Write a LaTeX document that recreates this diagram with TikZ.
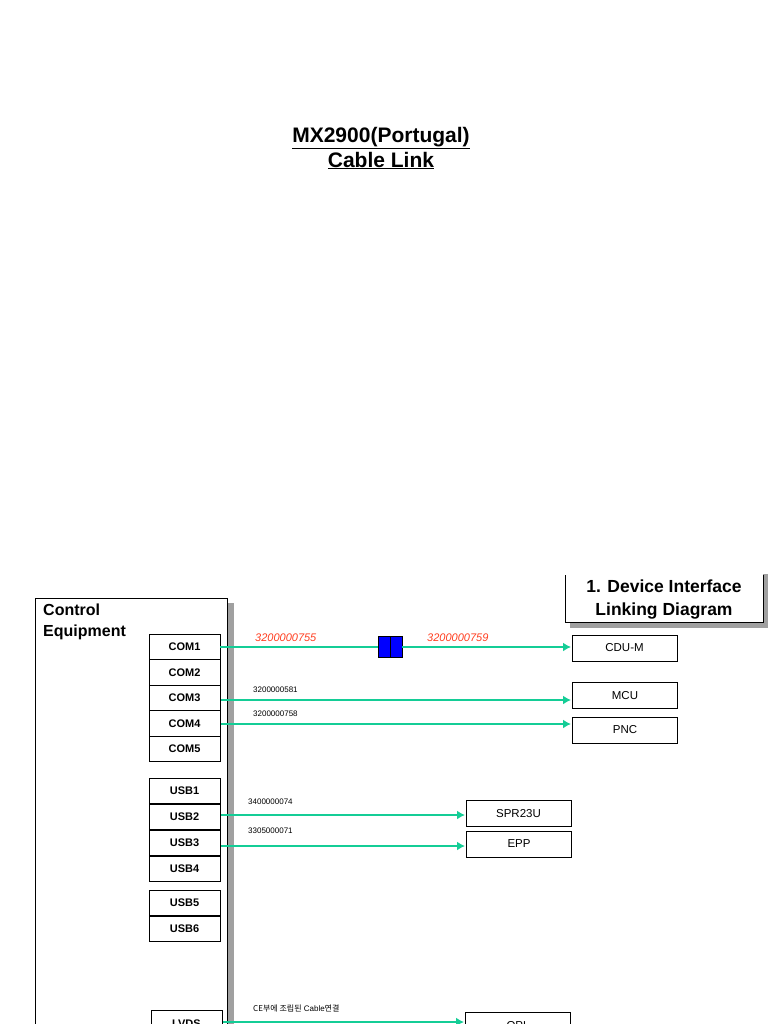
\documentclass[tikz,border=0pt]{standalone}
\usepackage{fontspec}
\setmainfont{Liberation Sans}
\newfontfamily\kr{Noto Sans CJK KR}
\usetikzlibrary{arrows.meta}
\definecolor{teal1}{RGB}{20,205,150}
\definecolor{redl}{RGB}{255,60,30}
\definecolor{shad}{RGB}{160,160,160}
\begin{document}
\begin{tikzpicture}[x=1pt,y=-1pt,
  port/.style={draw,line width=0.8pt,fill=white,minimum width=71pt,minimum height=25.5pt,inner sep=0pt,font=\fontsize{11}{12}\selectfont\bfseries},
  dev/.style={draw,line width=0.7pt,fill=white,minimum width=105pt,minimum height=26pt,inner sep=0pt,font=\fontsize{11.5}{13}\selectfont},
  link/.style={draw=teal1,line width=2.2pt,-{Latex[length=8pt,width=9pt]}},
  num/.style={font=\fontsize{8}{9}\selectfont,anchor=west,inner sep=0pt},
  rnum/.style={font=\fontsize{11}{12}\selectfont\itshape,text=redl,anchor=west,inner sep=0pt}]
\useasboundingbox (0,0) rectangle (768,1024);
\clip (0,0) rectangle (768,1024);
% title
\node[font=\fontsize{21}{25}\selectfont\bfseries,align=center] (title) at (381,148) {\underline{MX2900(Portugal)}\\\underline{Cable Link}};
% device interface box
\fill[shad] (570,574) rectangle (768,628);
\fill[white] (565,560) rectangle (763,622);
\draw[line width=0.8pt] (565,575) -- (565,622) -- (763,622) -- (763,575);
\node[font=\fontsize{17.5}{23}\selectfont\bfseries,align=center] (hdr) at (664,600) {1. Device Interface\\Linking Diagram};
% control equipment
\fill[shad] (227,603) rectangle (234,1030);
\draw[line width=0.8pt] (35,1030) -- (35,598) -- (227,598) -- (227,1030);
\node[font=\fontsize{16}{21}\selectfont\bfseries,align=left,anchor=north west,inner sep=0pt] (ce) at (43,604) {Control\\Equipment};
% ports
\node[port] (com1) at (184.5,647) {COM1};
\node[port] (com2) at (184.5,672.5) {COM2};
\node[port] (com3) at (184.5,698) {COM3};
\node[port] (com4) at (184.5,723.5) {COM4};
\node[port] (com5) at (184.5,749) {COM5};
\node[port] (usb1) at (184.5,791) {USB1};
\node[port] (usb2) at (184.5,817) {USB2};
\node[port] (usb3) at (184.5,843) {USB3};
\node[port] (usb4) at (184.5,869) {USB4};
\node[port] (usb5) at (184.5,903) {USB5};
\node[port] (usb6) at (184.5,929) {USB6};
\node[port,minimum height=28pt] (lvds) at (186.5,1024) {LVDS};
% devices
\node[dev] (cdu) at (624.5,648) {CDU-M};
\node[dev] (mcu) at (625,695.5) {MCU};
\node[dev] (pnc) at (625,730) {PNC};
\node[dev] (spr) at (518.5,813.5) {SPR23U};
\node[dev] (epp) at (519,844) {EPP};
\node[dev,minimum height=28pt] (opl) at (518,1026) {OPL};
% connector
\node[draw=black,fill=blue,minimum width=24pt,minimum height=21pt,inner sep=0pt,line width=0.6pt] (conn) at (390,647) {};
% link endpoints
\coordinate (a3) at (221,700); \coordinate (b3) at (571,700);
\coordinate (a4) at (221,724); \coordinate (b4) at (571,724);
\coordinate (a5) at (221,815); \coordinate (b5) at (465,815);
\coordinate (a6) at (221,846); \coordinate (b6) at (465,846);
\coordinate (a7) at (223,1022); \coordinate (b7) at (464,1022);
\coordinate (b1) at (571,647);
% links
\draw[draw=teal1,line width=2.2pt] (com1.east) -- (conn.west);
\draw[link] (conn.east) -- (b1);
\draw[line width=0.6pt] (conn.north) -- (conn.south);
\draw[link] (a3) -- (b3);
\draw[link] (a4) -- (b4);
\draw[link] (a5) -- (b5);
\draw[link] (a6) -- (b6);
\draw[link] (a7) -- (b7);
% labels
\node[rnum] (l1) at (255,638) {3200000755};
\node[rnum] (l2) at (427,638) {3200000759};
\node[num] (l3) at (253,690) {3200000581};
\node[num] (l4) at (253,714) {3200000758};
\node[num] (l5) at (248,802) {3400000074};
\node[num] (l6) at (248,831) {3305000071};
\node[num] (l7) at (253,1008) {{\kr CE부에 조립된} Cable{\kr 연결}};
\end{tikzpicture}
\end{document}
